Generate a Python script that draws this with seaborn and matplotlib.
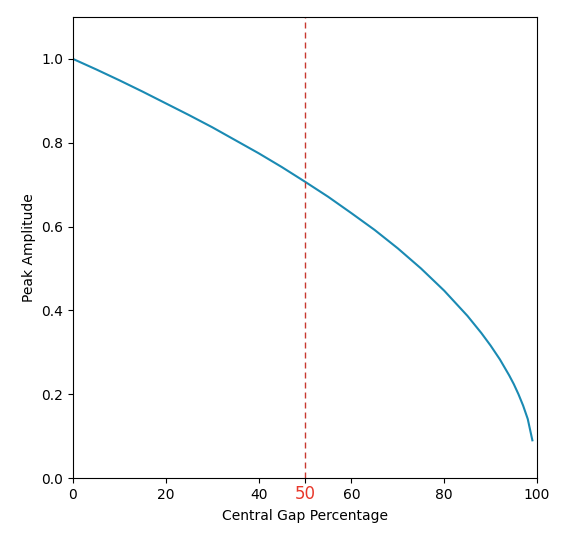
import matplotlib
matplotlib.use('Agg')
import matplotlib.pyplot as plt
import matplotlib.transforms as mtransforms
import seaborn as sns
import pandas as pd

# values
gap_pct = [0, 5, 10, 15, 20, 25, 30, 35, 40, 45, 50, 55, 60, 65, 70,
           75, 80, 85, 88, 90, 92, 94, 95, 96, 97, 98, 99]
peak_amp = [1.0, 0.975, 0.949, 0.922, 0.894, 0.866, 0.837, 0.806, 0.775,
            0.742, 0.707, 0.671, 0.632, 0.592, 0.548, 0.5, 0.447, 0.387,
            0.346, 0.316, 0.283, 0.245, 0.224, 0.2, 0.173, 0.141, 0.09]
marker_x = 50
x_ticks = [0, 20, 40, 50, 60, 80, 100]

df = pd.DataFrame({'gap': gap_pct, 'amp': peak_amp})

fig = plt.figure(figsize=(5.77, 5.35), dpi=100)
ax = fig.add_axes([0.1265, 0.1065, 0.8042, 0.8617])

sns.lineplot(data=df, x='gap', y='amp', color='#1a8ab3', linewidth=1.5, ax=ax)
ax.axvline(marker_x, color='#c8382f', linestyle='--', linewidth=1, dashes=(4.3, 2.9))

ax.set_xlim(0, 100)
ax.set_ylim(0, 1.1)
ax.set_xticks(x_ticks)
ax.set_xticklabels([str(t) for t in x_ticks])
# highlight the 50 label, keep its baseline in line with the others
shift = mtransforms.ScaledTranslation(0, 0.025, fig.dpi_scale_trans)
for lbl in ax.get_xticklabels():
    if lbl.get_text() == str(marker_x):
        lbl.set_color('#e8382b')
        lbl.set_fontsize(12)
        lbl.set_transform(lbl.get_transform() + shift)
ax.set_xlabel('Central Gap Percentage')
ax.set_ylabel('Peak Amplitude')

fig.savefig('out.png', dpi=100)
